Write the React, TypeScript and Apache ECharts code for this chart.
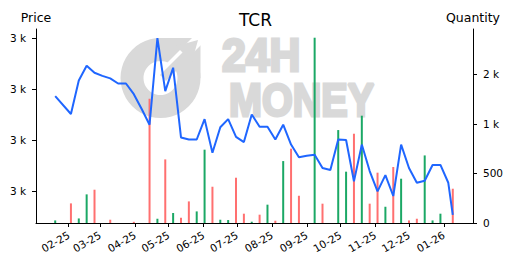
import React, { useEffect, useRef } from "react";
import * as echarts from "echarts";

// ---- data ----
const dates = [
  "2025-01-20", "2025-02-03", "2025-02-10", "2025-02-17", "2025-02-24", "2025-03-03",
  "2025-03-10", "2025-03-17", "2025-03-24", "2025-03-31", "2025-04-07", "2025-04-14",
  "2025-04-21", "2025-04-28", "2025-05-05", "2025-05-12", "2025-05-19", "2025-05-26",
  "2025-06-02", "2025-06-09", "2025-06-16", "2025-06-23", "2025-06-30", "2025-07-07",
  "2025-07-14", "2025-07-21", "2025-07-28", "2025-08-04", "2025-08-11", "2025-08-18",
  "2025-08-25", "2025-09-01", "2025-09-08", "2025-09-15", "2025-09-22", "2025-09-29",
  "2025-10-06", "2025-10-13", "2025-10-20", "2025-10-27", "2025-11-03", "2025-11-10",
  "2025-11-17", "2025-11-24", "2025-12-01", "2025-12-08", "2025-12-15", "2025-12-22",
  "2025-12-29", "2026-01-05", "2026-01-09",
];
const prices = [
  2886, 2851, 2917, 2946, 2932, 2926,
  2921, 2911, 2911, 2890, 2861, 2830,
  3000, 2896, 2942, 2805, 2801, 2801,
  2841, 2775, 2825, 2841, 2806, 2796,
  2850, 2826, 2826, 2801, 2830, 2791,
  2766, 2769, 2771, 2745, 2741, 2801,
  2800, 2719, 2791, 2739, 2699, 2731,
  2690, 2791, 2745, 2716, 2720, 2751,
  2751, 2716, 2653,
];
const volumes = [
  26, 198, 46, 289, 336, 0,
  33, 0, 0, 12, 0, 1254,
  43, 642, 101, 53, 218, 117,
  740, 366, 33, 30, 457, 94,
  13, 84, 185, 23, 625, 750,
  275, 0, 1870, 195, 0, 938,
  518, 901, 1083, 195, 508, 164,
  565, 447, 26, 43, 682, 26,
  94, 0, 346,
];
const sides = [
  "up", "down", "up", "up", "down", "down",
  "down", "down", "down", "down", "down", "down",
  "up", "down", "up", "down", "down", "up",
  "up", "down", "up", "up", "down", "down",
  "up", "down", "up", "down", "up", "down",
  "down", "up", "up", "down", "down", "up",
  "up", "down", "up", "down", "down", "up",
  "down", "up", "down", "down", "up", "up",
  "up", "down", "down",
];
const monthTicks = [
  "2025-02-01", "2025-03-01", "2025-04-01", "2025-05-01", "2025-06-01", "2025-07-01",
  "2025-08-01", "2025-09-01", "2025-10-01", "2025-11-01", "2025-12-01", "2026-01-01",
];
const monthLabels = [
  "02-25", "03-25", "04-25", "05-25", "06-25", "07-25",
  "08-25", "09-25", "10-25", "11-25", "12-25", "01-26",
];
const priceTicks = [2700, 2800, 2900, 3000];
const qtyTicks = [0, 500, 1000, 1500];

const RED = "#ff7070";
const GREEN = "#1ba865";
const BLUE = "#1f66ff";
const GRAY = "#d9d9d9";
const FONT = "DejaVu Sans";
const DAY = 86400000;

const kFmt = (v: number) => (Math.abs(v) >= 1000 ? Math.round(v / 1000) + " k" : String(Math.round(v)));

export default function App() {
  const ref = useRef<HTMLDivElement>(null);
  useEffect(() => {
    if (!ref.current) return;
    const chart = echarts.init(ref.current, null, { renderer: "svg" });
    const ts = dates.map((d) => Date.parse(d));
    const tickTs = monthTicks.map((d) => Date.parse(d));
    const xMin = tickTs[0] - 29.1 * DAY;
    const xMax = tickTs[tickTs.length - 1] + 26 * DAY;

    const axisCommon = {
      axisLine: { show: true, lineStyle: { color: "#000", width: 1 } },
      axisTick: { show: true, inside: false, length: 4, lineStyle: { color: "#000" } },
      splitLine: { show: false },
    };

    const wmStyle = {
      fill: GRAY,
      stroke: GRAY,
      lineWidth: 3,
      fontFamily: "Liberation Sans",
      fontWeight: "bold",
      fontSize: 46,
      align: "left",
      verticalAlign: "middle",
    };

    chart.setOption({
      animation: false,
      backgroundColor: "#fff",
      title: {
        text: "TCR",
        left: "center",
        top: 6,
        textStyle: { fontFamily: FONT, fontSize: 17, fontWeight: "normal", color: "#000" },
      },
      grid: { left: 36, right: 38, top: 29, bottom: 45 },
      graphic: [
        {
          type: "group",
          z: 0,
          silent: true,
          children: [
            { type: "circle", z: 0, shape: { cx: 160.5, cy: 78, r: 40 }, style: { fill: GRAY } },
            { type: "rect", z: 0, shape: { x: 160.5, y: 38, width: 40, height: 40 }, style: { fill: GRAY } },
            { type: "circle", z: 0, shape: { cx: 160.5, cy: 78, r: 17 }, style: { fill: "#fff" } },
            {
              type: "polygon", z: 0,
              shape: { points: [[156, 74], [201, 29], [209, 37], [164, 82]] },
              style: { fill: "#fff" },
            },
            {
              type: "polygon", z: 0,
              shape: { points: [[160, 75], [184, 51], [190, 57], [166, 81]] },
              style: { fill: GRAY },
            },
            {
              type: "polygon", z: 0,
              shape: { points: [[198, 40], [176, 46], [192, 62]] },
              style: { fill: GRAY },
            },
            {
              type: "text", z: 0, x: 222, y: 55, scaleX: 0.93,
              style: { ...wmStyle, text: "24H" },
            },
            {
              type: "text", z: 0, x: 229, y: 100, scaleX: 0.86,
              style: { ...wmStyle, text: "MONEY" },
            },
          ],
        },
      ],
      xAxis: {
        type: "value",
        min: xMin,
        max: xMax,
        ...axisCommon,
        axisTick: { ...axisCommon.axisTick, customValues: tickTs },
        axisLabel: {
          customValues: tickTs,
          rotate: 30,
          margin: 11,
          fontFamily: FONT,
          fontSize: 10.5,
          color: "#000",
          formatter: (v: number) => {
            const i = tickTs.indexOf(v);
            return i >= 0 ? monthLabels[i] : "";
          },
        },
      },
      yAxis: [
        {
          type: "value",
          position: "left",
          min: 2637,
          max: 3018,
          name: "Price",
          nameLocation: "end",
          nameGap: 12,
          nameTextStyle: { fontFamily: FONT, fontSize: 12.5, color: "#000", align: "center", verticalAlign: "middle" },
          ...axisCommon,
          axisTick: { ...axisCommon.axisTick, customValues: priceTicks },
          axisLabel: {
            customValues: priceTicks,
            margin: 10,
            fontFamily: FONT,
            fontSize: 10.5,
            color: "#000",
            formatter: kFmt,
          },
        },
        {
          type: "value",
          position: "right",
          min: 0,
          max: 1958,
          name: "Quantity",
          nameLocation: "end",
          nameGap: 12,
          nameTextStyle: { fontFamily: FONT, fontSize: 12.5, color: "#000", align: "center", verticalAlign: "middle" },
          ...axisCommon,
          axisTick: { ...axisCommon.axisTick, customValues: qtyTicks },
          axisLabel: {
            customValues: qtyTicks,
            margin: 10,
            fontFamily: FONT,
            fontSize: 10.5,
            color: "#000",
            formatter: kFmt,
          },
        },
      ],
      series: [
        {
          type: "bar",
          yAxisIndex: 1,
          barWidth: 2,
          z: 2,
          data: ts.map((t, i) => ({
            value: [t, volumes[i]],
            itemStyle: { color: sides[i] === "up" ? GREEN : RED },
          })),
        },
        {
          type: "line",
          yAxisIndex: 0,
          z: 3,
          symbol: "none",
          lineStyle: { color: BLUE, width: 2 },
          data: ts.map((t, i) => [t, prices[i]]),
        },
      ],
    });
    return () => chart.dispose();
  }, []);
  return <div ref={ref} style={{ width: 511, height: 268, margin: -8 }} />;
}
